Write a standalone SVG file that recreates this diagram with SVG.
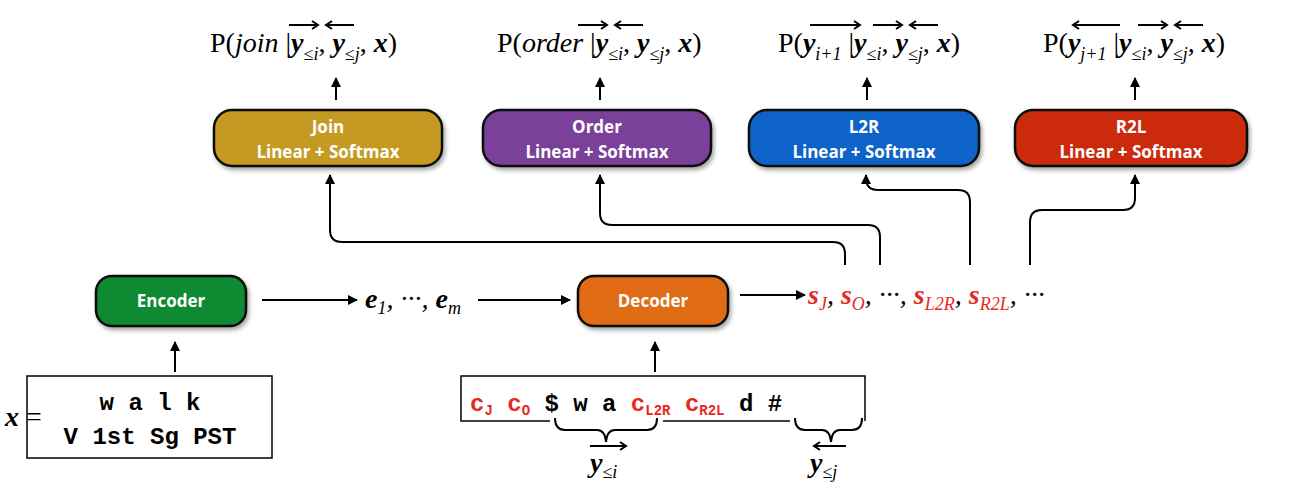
<svg xmlns="http://www.w3.org/2000/svg" width="1294" height="495" viewBox="0 0 1294 495">
<defs>
<marker id="ah" markerWidth="10" markerHeight="10" refX="9" refY="5" orient="auto" markerUnits="userSpaceOnUse"><path d="M0,0 L10,5 L0,10 z" fill="#000"/></marker>
<filter id="sh" x="-10%" y="-10%" width="130%" height="140%"><feDropShadow dx="2" dy="3" stdDeviation="2" flood-opacity="0.35"/></filter>
</defs>
<style>
.box{stroke:#111;stroke-width:2.5;filter:url(#sh)}
.bt{font-family:"Open Sans","DejaVu Sans",sans-serif;font-weight:bold;fill:#fff;font-size:17px;text-anchor:middle}
.m{font-family:"Liberation Serif",serif;font-style:italic;font-size:28px;fill:#000}
.r{fill:#e8281c}
.c{stroke:#000;stroke-width:2;fill:none}
.mono{font-family:"Liberation Mono",monospace;font-weight:bold;font-size:24px}
</style>
<rect width="1294" height="495" fill="#fff"/>
<g id="join"><rect class="box" x="214" y="110" width="228" height="56" rx="18" fill="#c49a20"/><text class="bt" x="328" y="133">Join</text><text class="bt" x="328" y="158">Linear + Softmax</text></g>
<g id="order"><rect class="box" x="483" y="110" width="228" height="56" rx="18" fill="#7a3f9a"/><text class="bt" x="597" y="133">Order</text><text class="bt" x="597" y="158">Linear + Softmax</text></g>
<g id="l2r"><rect class="box" x="749" y="110" width="230" height="56" rx="18" fill="#0a64c8"/><text class="bt" x="864" y="133">L2R</text><text class="bt" x="864" y="158">Linear + Softmax</text></g>
<g id="r2l"><rect class="box" x="1015" y="110" width="232" height="56" rx="18" fill="#cc2a0e"/><text class="bt" x="1131" y="133">R2L</text><text class="bt" x="1131" y="158">Linear + Softmax</text></g>
<g id="encoder"><rect class="box" x="96" y="276" width="150" height="50" rx="16" fill="#0c8a30"/><text class="bt" x="171" y="307" font-size="19">Encoder</text></g>
<g id="decoder"><rect class="box" x="578" y="276" width="150" height="50" rx="16" fill="#e06c12"/><text class="bt" x="653" y="307" font-size="19">Decoder</text></g>
<g id="formulas">
<text class="m" x="210" y="52"><tspan font-style="normal">P(</tspan>join<tspan font-style="normal"> |</tspan><tspan font-weight="bold">y</tspan><tspan font-size="18" dy="8">≤i</tspan><tspan dy="-8" font-style="normal">, </tspan><tspan font-weight="bold">y</tspan><tspan font-size="18" dy="8">≤j</tspan><tspan dy="-8" font-style="normal">, </tspan><tspan font-weight="bold">x</tspan><tspan font-style="normal">)</tspan></text>
<text class="m" x="497" y="52"><tspan font-style="normal">P(</tspan>order<tspan font-style="normal"> |</tspan><tspan font-weight="bold">y</tspan><tspan font-size="18" dy="8">≤i</tspan><tspan dy="-8" font-style="normal">, </tspan><tspan font-weight="bold">y</tspan><tspan font-size="18" dy="8">≤j</tspan><tspan dy="-8" font-style="normal">, </tspan><tspan font-weight="bold">x</tspan><tspan font-style="normal">)</tspan></text>
<text class="m" x="778" y="52"><tspan font-style="normal">P(</tspan><tspan font-weight="bold">y</tspan><tspan font-size="18" dy="8">i+1</tspan><tspan dy="-8" font-style="normal"> |</tspan><tspan font-weight="bold">y</tspan><tspan font-size="18" dy="8">≤i</tspan><tspan dy="-8" font-style="normal">, </tspan><tspan font-weight="bold">y</tspan><tspan font-size="18" dy="8">≤j</tspan><tspan dy="-8" font-style="normal">, </tspan><tspan font-weight="bold">x</tspan><tspan font-style="normal">)</tspan></text>
<text class="m" x="1043" y="52"><tspan font-style="normal">P(</tspan><tspan font-weight="bold">y</tspan><tspan font-size="18" dy="8">j+1</tspan><tspan dy="-8" font-style="normal"> |</tspan><tspan font-weight="bold">y</tspan><tspan font-size="18" dy="8">≤i</tspan><tspan dy="-8" font-style="normal">, </tspan><tspan font-weight="bold">y</tspan><tspan font-size="18" dy="8">≤j</tspan><tspan dy="-8" font-style="normal">, </tspan><tspan font-weight="bold">x</tspan><tspan font-style="normal">)</tspan></text>
<g class="c" stroke-width="1.5">
<path d="M289 25 H316 M312 21 L318 25 L312 29"/><path d="M328 25 H354 M332 21 L326 25 L332 29"/>
<path d="M578 25 H605 M601 21 L607 25 L601 29"/><path d="M617 25 H643 M621 21 L615 25 L621 29"/>
<path d="M810 25 H858 M854 21 L860 25 L854 29"/><path d="M873 25 H900 M896 21 L902 25 L896 29"/><path d="M912 25 H938 M916 21 L910 25 L916 29"/>
<path d="M1075 25 H1120 M1079 21 L1073 25 L1079 29"/><path d="M1138 25 H1165 M1161 21 L1167 25 L1161 29"/><path d="M1177 25 H1203 M1181 21 L1175 25 L1181 29"/>
</g>
</g>
<g id="seq">
<text class="m" x="365" y="308" font-style="normal"><tspan font-weight="bold" font-style="italic">e</tspan><tspan font-size="18" dy="6">1</tspan><tspan dy="-6">, ···, </tspan><tspan font-weight="bold" font-style="italic">e</tspan><tspan font-size="18" dy="6" font-style="italic">m</tspan></text>
<text class="m r" x="808" y="304" font-style="normal"><tspan font-weight="bold" font-style="italic">s</tspan><tspan font-size="18" dy="6" font-style="italic">J</tspan><tspan dy="-6" fill="#000">, </tspan><tspan font-weight="bold" font-style="italic">s</tspan><tspan font-size="18" dy="6" font-style="italic">O</tspan><tspan dy="-6" fill="#000">, ···, </tspan><tspan font-weight="bold" font-style="italic">s</tspan><tspan font-size="18" dy="6" font-style="italic">L2R</tspan><tspan dy="-6" fill="#000">, </tspan><tspan font-weight="bold" font-style="italic">s</tspan><tspan font-size="18" dy="6" font-style="italic">R2L</tspan><tspan dy="-6" fill="#000">,  ···</tspan></text>
</g>
<g id="input-x">
<text class="m" x="5" y="426"><tspan font-weight="bold">x</tspan><tspan font-style="normal"> =</tspan></text>
<rect x="27" y="376" width="245" height="82" fill="none" stroke="#000" stroke-width="1.5"/>
<text class="mono" x="150" y="410" text-anchor="middle">w a l k</text>
<text class="mono" x="150" y="444" text-anchor="middle">V 1st Sg PST</text>
</g>
<g id="input-dec">
<path d="M550 421 H461 V376 H865 V421 M663 421 H790" fill="none" stroke="#000" stroke-width="1.5"/>
<text class="mono" x="470" y="411"><tspan fill="#e8281c">c<tspan font-size="14" dy="4">J</tspan><tspan dy="-4"> c</tspan><tspan font-size="14" dy="4">O</tspan></tspan><tspan dy="-4"> $ w a </tspan><tspan fill="#e8281c">c<tspan font-size="14" dy="4">L2R</tspan><tspan dy="-4"> c</tspan><tspan font-size="14" dy="4">R2L</tspan></tspan><tspan dy="-4"> d #</tspan></text>
<path class="c" d="M555 418 Q555 430 565 430 H597 Q605 430 606 442 Q607 430 615 430 H647 Q657 430 657 418"/>
<path class="c" d="M795 418 Q795 430 805 430 H822 Q830 430 831 442 Q832 430 840 430 H852 Q862 430 862 418"/>
<text class="m" x="590" y="472"><tspan font-weight="bold">y</tspan><tspan font-size="18" dy="6">≤i</tspan></text>
<text class="m" x="810" y="472"><tspan font-weight="bold">y</tspan><tspan font-size="18" dy="6">≤j</tspan></text>
<path class="c" stroke-width="1.5" d="M590 446 H625 M620 442 L626 446 L620 450"/>
<path class="c" stroke-width="1.5" d="M815 446 H846 M820 442 L814 446 L820 450"/>
</g>
<g id="connectors" class="c">
<path d="M336 100 V78" marker-end="url(#ah)"/>
<path d="M600 100 V78" marker-end="url(#ah)"/>
<path d="M867 100 V78" marker-end="url(#ah)"/>
<path d="M1135 100 V78" marker-end="url(#ah)"/>
<path d="M262 300 H357" marker-end="url(#ah)"/>
<path d="M478 300 H570" marker-end="url(#ah)"/>
<path d="M740 295 H805" marker-end="url(#ah)"/>
<path d="M175 372 V342" marker-end="url(#ah)"/>
<path d="M655 372 V342" marker-end="url(#ah)"/>
<path d="M845 265 V254 Q845 242 833 242 H342 Q330 242 330 230 V175" marker-end="url(#ah)"/>
<path d="M880 265 V237 Q880 225 868 225 H612 Q600 225 600 213 V175" marker-end="url(#ah)"/>
<path d="M970 265 V202 Q970 190 958 190 H878 Q866 190 866 178 V175" marker-end="url(#ah)"/>
<path d="M1030 265 V222 Q1030 210 1042 210 H1123 Q1135 210 1135 198 V175" marker-end="url(#ah)"/>
</g>
</svg>
